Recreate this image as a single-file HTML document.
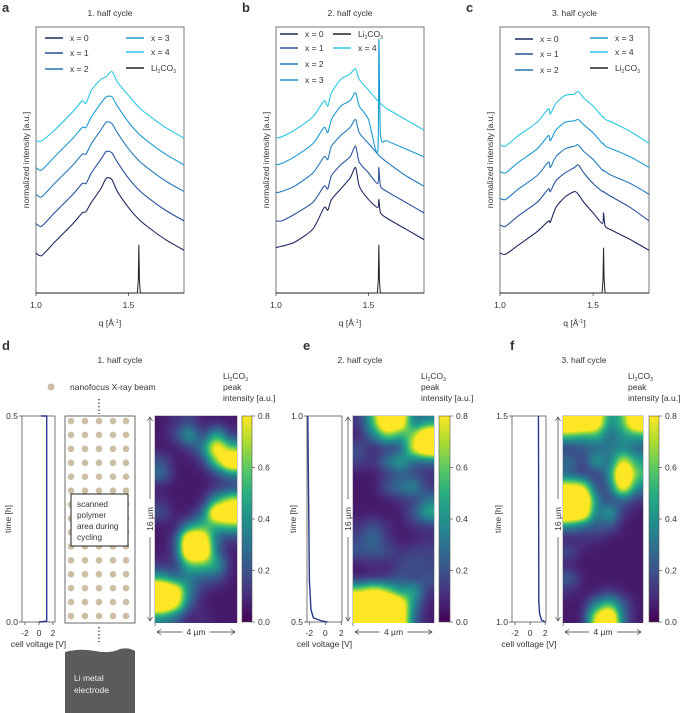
<!DOCTYPE html>
<html><head><meta charset="utf-8">
<style>
html,body{margin:0;padding:0;background:#fff;}
#wrap{position:relative;width:685px;height:713px;overflow:hidden;font-family:"Liberation Sans",sans-serif;}
svg text{font-family:"Liberation Sans",sans-serif;fill:#333;}
canvas{position:absolute;}
</style></head><body>
<div id="wrap">
<svg id="svg" width="685" height="713" viewBox="0 0 685 713" style="position:absolute;left:0;top:0"></svg>
<canvas id="hmD" width="82" height="207" style="left:155px;top:416px"></canvas>
<canvas id="hmE" width="81" height="207" style="left:353px;top:416px"></canvas>
<canvas id="hmF" width="80" height="207" style="left:563px;top:416px"></canvas>
</div>
<script>
// ---------- spectra data ----------
const qA=[1.0,1.03,1.1,1.2,1.25,1.27,1.3,1.35,1.38,1.41,1.44,1.5,1.55,1.6,1.7,1.8];
const aX0=[1.5,1.4,1.9,2.6,3.0,3.05,3.4,3.9,4.3,4.25,3.8,3.2,2.8,2.5,2.0,1.6];
const aX1=[2.6,2.5,3.0,3.7,4.1,4.1,4.5,5.0,5.3,5.25,4.9,4.3,3.9,3.6,3.1,2.7];
const aX2=[3.7,3.6,4.1,4.8,5.2,5.2,5.6,6.1,6.4,6.35,6.0,5.4,5.0,4.7,4.2,3.8];
const aX3=[4.7,4.6,5.1,5.8,6.2,6.2,6.6,7.1,7.35,7.35,7.0,6.4,6.0,5.7,5.2,4.8];
const aX4=[5.7,5.7,6.1,6.8,7.2,7.1,7.6,8.0,8.1,8.3,7.9,7.4,7.0,6.7,6.2,5.8];
const qB=[1.0,1.03,1.1,1.2,1.26,1.28,1.3,1.35,1.4,1.43,1.45,1.5,1.55,1.556,1.565,1.6,1.7,1.8];
const bX0=[1.7,1.75,1.9,2.4,3.2,3.1,3.5,3.9,4.3,4.7,4.0,3.5,3.2,3.5,3.0,2.8,2.4,2.0];
const bX1=[2.7,2.7,2.95,3.4,4.0,3.9,4.4,4.8,5.1,5.5,4.9,4.5,4.1,4.7,4.0,3.8,3.4,3.0];
const bX2=[3.75,3.8,4.0,4.5,5.1,5.0,5.5,5.9,6.2,6.5,6.0,5.6,5.2,5.15,5.1,4.9,4.4,4.0];
const bX3=[4.8,4.85,5.1,5.6,6.2,6.0,6.5,7.0,7.2,7.5,7.0,6.5,5.3,9.5,5.9,5.7,5.4,5.1];
const bX4=[5.8,5.85,6.1,6.6,7.2,7.0,7.5,8.0,8.2,8.4,8.0,7.6,7.2,7.15,7.1,6.9,6.5,6.1];
const qC=[1.0,1.03,1.1,1.2,1.26,1.27,1.3,1.35,1.4,1.42,1.45,1.5,1.55,1.556,1.565,1.6,1.7,1.8];
const cX0=[1.5,1.45,1.8,2.3,2.7,2.65,3.2,3.6,3.8,3.7,3.4,3.0,2.6,3.0,2.5,2.35,2.0,1.6];
const cX1=[2.55,2.5,2.9,3.4,3.9,3.8,4.2,4.5,4.7,4.8,4.5,4.1,3.8,3.8,3.75,3.6,3.2,2.7];
const cX2=[3.55,3.5,3.9,4.4,4.9,4.7,5.1,5.4,5.5,5.55,5.3,5.0,4.6,4.6,4.55,4.4,4.1,3.7];
const cX3=[4.55,4.5,4.9,5.4,5.9,5.7,6.1,6.4,6.45,6.5,6.3,6.0,5.6,5.6,5.5,5.4,5.1,4.7];
const cX4=[5.55,5.5,5.9,6.4,6.9,6.7,7.1,7.4,7.45,7.55,7.3,7.0,6.6,6.6,6.5,6.4,6.05,5.6];
const qLi=[1.0,1.548,1.553,1.556,1.559,1.564,1.8];
const liA=[0,0,0.5,1.8,0.5,0,0];
const liB=[0,0,0.5,1.8,0.5,0,0];
const liC=[0,0,0.5,1.7,0.5,0,0];
const xTicks=[1.0,1.5];
const seriesLabels=["x = 0","x = 1","x = 2","x = 3","x = 4"];
// ---------- voltage data ----------
const tD=[0.0,0.0,0.002,0.5,0.5];
const vD=[0.0,0.0,1.1,1.1,0.3];
const tE=[1.0,0.8,0.6,0.53,0.51,0.503,0.5];
const vE=[-2.2,-2.1,-2.0,-1.8,-1.5,-0.5,0.3];
const tF=[1.0,1.005,1.02,1.05,1.5];
const vF=[2.0,1.5,1.25,1.15,1.1];
const vTicks=[-2,0,2];
// ---------- heatmap grids (Li2CO3 peak intensity), rows top->bottom ----------
const hmDgrid=[
[0.05,0.1,0.15,0.05,0.05,0.05],[0.05,0.15,0.5,0.1,0.5,0.1],[0.05,0.05,0.1,0.3,1.0,0.5],[0.2,0.05,0.05,0.1,0.6,1.2],
[0.3,0.05,0.05,0.05,0.1,0.3],[0.05,0.05,0.05,0.05,0.1,0.1],[0.1,0.05,0.05,0.05,0.4,0.7],[0.2,0.05,0.05,0.2,1.2,1.2],
[0.05,0.05,0.3,0.5,0.4,0.5],[0.05,0.1,1.2,1.0,0.2,0.1],[0.05,0.1,1.2,1.2,0.2,0.05],[0.1,0.1,0.5,0.5,0.5,0.05],
[0.4,0.2,0.3,0.2,0.2,0.05],[1.3,1.0,0.3,0.1,0.05,0.05],[1.3,0.9,0.2,0.05,0.05,0.05],[0.3,0.2,0.05,0.1,0.05,0.05]];
const hmEgrid=[
[0.1,0.5,1.2,1.0,0.2,0.3],[0.05,0.3,0.6,0.4,0.6,1.2],[0.2,0.05,0.1,0.1,0.8,1.2],[0.15,0.1,0.3,0.5,0.2,0.2],
[0.05,0.05,0.1,0.2,0.15,0.1],[0.05,0.05,0.2,0.3,0.4,0.1],[0.05,0.05,0.05,0.1,0.1,0.3],[0.05,0.05,0.05,0.05,0.2,0.5],
[0.1,0.2,0.1,0.05,0.1,0.1],[0.15,0.3,0.1,0.05,0.05,0.1],[0.2,0.2,0.2,0.1,0.15,0.15],[0.05,0.1,0.05,0.15,0.2,0.15],
[0.05,0.05,0.1,0.2,0.1,0.2],[0.6,0.8,0.6,0.3,0.5,0.1],[1.3,1.3,1.3,1.0,0.3,0.05],[1.3,1.3,1.3,1.0,0.2,0.05]];
const hmFgrid=[
[1.3,1.3,1.0,0.3,0.5,1.2],[0.5,0.4,0.5,0.2,0.4,0.4],[0.1,0.2,0.2,0.3,0.3,0.2],[0.3,0.1,0.5,0.2,0.8,0.4],
[0.2,0.1,0.1,0.3,1.3,0.5],[0.8,0.8,0.1,0.2,1.0,0.3],[1.3,1.2,0.3,0.1,0.2,0.1],[1.3,1.1,0.2,0.5,0.1,0.05],
[0.3,0.2,0.2,0.2,0.05,0.05],[0.05,0.1,0.1,0.05,0.05,0.05],[0.2,0.05,0.05,0.05,0.05,0.05],[0.05,0.05,0.05,0.05,0.05,0.05],
[0.25,0.05,0.05,0.05,0.05,0.05],[0.1,0.05,0.05,0.1,0.05,0.05],[0.05,0.05,0.3,0.5,0.2,0.05],[0.05,0.05,0.8,1.2,0.2,0.05]];
const cbTicks=[0.0,0.2,0.4,0.6,0.8];

const NS="http://www.w3.org/2000/svg";
const svg=document.getElementById('svg');
function el(tag,attrs,parent){const e=document.createElementNS(NS,tag);for(const k in attrs)e.setAttribute(k,attrs[k]);(parent||svg).appendChild(e);return e;}
function txt(x,y,s,size,anchor,parent,extra){const t=el('text',Object.assign({x:x,y:y,'font-size':size,'text-anchor':anchor||'start'},extra||{}),parent);t.textContent=s;return t;}
const colors=['#1f2a5e','#2a519c','#2479ba','#1c9bd2','#2cc6e2'];

// smooth path (Catmull-Rom -> bezier, low tension)
function smoothPath(pts){let d='M'+pts[0][0].toFixed(2)+','+pts[0][1].toFixed(2);
  for(let i=0;i<pts.length-1;i++){const p0=pts[Math.max(0,i-1)],p1=pts[i],p2=pts[i+1],p3=pts[Math.min(pts.length-1,i+2)];
    const k=0.12;const c1=[p1[0]+(p2[0]-p0[0])*k,p1[1]+(p2[1]-p0[1])*k],c2=[p2[0]-(p3[0]-p1[0])*k,p2[1]-(p3[1]-p1[1])*k];
    d+=`C${c1[0].toFixed(2)},${c1[1].toFixed(2)} ${c2[0].toFixed(2)},${c2[1].toFixed(2)} ${p2[0].toFixed(2)},${p2[1].toFixed(2)}`;}
  return d;}

function spectrumPanel(letter,title,L,R,q,series,li,legendPos){
  const g=el('g',{});
  
  
  const T=27,B=293;
  const sx=v=>L+(v-1.0)/(0.8)*(R-L);
  const sy=v=>B-v*26.7;
  const lt=txt(L-34,12,letter,13,'start',g,{'font-weight':'bold',fill:'#111'});
  
  const tt=txt((L+R)/2,16,title,8.5,'middle',g);
  
  const box=el('rect',{x:L,y:T,width:R-L,height:B-T,fill:'none',stroke:'#555','stroke-width':0.8},g);
  
  xTicks.forEach(v=>{el('line',{x1:sx(v),x2:sx(v),y1:B,y2:B+3,stroke:'#555','stroke-width':0.8},g);
    const tl=txt(sx(v),308,v.toFixed(1),8.5,'middle',g);});
  const xl=txt((L+R)/2,326,'q [Å',8.5,'middle',g);
  const ts=el('tspan',{'font-size':5.5,dy:-3},xl);ts.textContent='-1';const ts2=el('tspan',{dy:3},xl);ts2.textContent=']';
  
  const yl=txt(0,0,'normalized intensity [a.u.]',8.5,'middle',g,{transform:`translate(${L-7},${(T+B)/2}) rotate(-90)`});
  
  let d='';qLi.forEach((v,i)=>{d+=(i?'L':'M')+sx(v).toFixed(2)+','+sy(li[i]).toFixed(2);});
  const lp=el('path',{d:d,fill:'none',stroke:'#222','stroke-width':1},g);
  
  series.forEach((s,k)=>{const pts=q.map((v,i)=>[sx(v),sy(s[i])]);
    const p=el('path',{d:smoothPath(pts),fill:'none',stroke:colors[k],'stroke-width':1.1,'stroke-linejoin':'round'},g);
    });
  legendPos.forEach(([lx,ly,label,ci])=>{
    const lg=el('g',{},g);
    
    el('line',{x1:lx,x2:lx+18,y1:ly,y2:ly,stroke:ci<0?'#222':colors[ci],'stroke-width':1.6},lg);
    if(label==='Li2CO3'){const t=txt(lx+25,ly+3,'Li',8.5,'start',lg);const a=el('tspan',{'font-size':5,dy:2},t);a.textContent='2';const b=el('tspan',{dy:-2},t);b.textContent='CO';const c=el('tspan',{'font-size':5,dy:2},t);c.textContent='3';}
    else txt(lx+25,ly+3,label,8.5,'start',lg);
  });
}
spectrumPanel('a','1. half cycle',36,184,qA,[aX0,aX1,aX2,aX3,aX4],liA,
 [[45,38,seriesLabels[0],0],[45,53,seriesLabels[1],1],[45,69,seriesLabels[2],2],[126,38,seriesLabels[3],3],[126,52,seriesLabels[4],4],[126,68,'Li2CO3',-1]]);
spectrumPanel('b','2. half cycle',276,424,qB,[bX0,bX1,bX2,bX3,bX4],liB,
 [[280,34,seriesLabels[0],0],[280,48,seriesLabels[1],1],[280,64,seriesLabels[2],2],[280,80,seriesLabels[3],3],[333,48,seriesLabels[4],4],[333,34,'Li2CO3',-1]]);
spectrumPanel('c','3. half cycle',500,649,qC,[cX0,cX1,cX2,cX3,cX4],liC,
 [[515,39,seriesLabels[0],0],[515,54,seriesLabels[1],1],[515,70,seriesLabels[2],2],[590,38,seriesLabels[3],3],[590,52,seriesLabels[4],4],[590,68,'Li2CO3',-1]]);

const vir=[[68,1,84],[71,45,123],[59,82,139],[44,114,142],[33,145,140],[40,174,128],[94,201,98],[173,220,48],[253,231,37]];
function viridis(t){t=Math.max(0,Math.min(1,t));const f=t*8;const i=Math.min(7,Math.floor(f));const r=f-i;const a=vir[i],b=vir[i+1];return[a[0]+(b[0]-a[0])*r,a[1]+(b[1]-a[1])*r,a[2]+(b[2]-a[2])*r];}
const defs=el('defs',{});
const lg=el('linearGradient',{id:'vgrad',x1:0,y1:1,x2:0,y2:0},defs);
vir.forEach((c,i)=>el('stop',{offset:(i/8),'stop-color':`rgb(${c.join(',')})`},lg));

function drawHeatmap(id,grid){
  const cv=document.getElementById(id),ctx=cv.getContext('2d');const W=cv.width,H=cv.height;
  const img=ctx.createImageData(W,H);const rows=grid.length,cols=grid[0].length;
  const sig=0.55,s2=2*sig*sig;
  for(let py=0;py<H;py++){const gy=(py+0.5)/H*rows-0.5;
    for(let px=0;px<W;px++){const gx=(px+0.5)/W*cols-0.5;
      let sw=0,sv=0;
      for(let r=Math.max(0,Math.floor(gy)-2);r<=Math.min(rows-1,Math.floor(gy)+3);r++)
        for(let c=Math.max(0,Math.floor(gx)-2);c<=Math.min(cols-1,Math.floor(gx)+3);c++){
          const w=Math.exp(-((r-gy)*(r-gy)+(c-gx)*(c-gx))/s2);sw+=w;sv+=w*grid[r][c];}
      const v=sv/sw*1.1;
      const col=viridis(v/0.8);const k=(py*W+px)*4;img.data[k]=col[0];img.data[k+1]=col[1];img.data[k+2]=col[2];img.data[k+3]=255;}}
  ctx.putImageData(img,0,0);
}
drawHeatmap('hmD',hmDgrid);drawHeatmap('hmE',hmEgrid);drawHeatmap('hmF',hmFgrid);

function bottomPanel(letter,title,cfg){
  const g=el('g',{});
  
  
  const T=416,B=622;
  const lt=txt(cfg.letterX,350,letter,13,'start',g,{'font-weight':'bold',fill:'#111'});
  
  const tt=txt(cfg.titleX,363,title,8.5,'middle',g);
  
  const [VL,VR]=cfg.vbox,[vmin,vmax]=cfg.vdom,[tmin,tmax]=cfg.tdom;
  const sx=v=>VL+(v-vmin)/(vmax-vmin)*(VR-VL);const sy=t=>B-(t-tmin)/(tmax-tmin)*(B-T);
  const fr=el('rect',{x:VL,y:T,width:VR-VL,height:B-T,fill:'#fff',stroke:'#555','stroke-width':0.8},g);
  
  let d='';cfg.t.forEach((tv,i)=>{d+=(i?'L':'M')+sx(cfg.v[i]).toFixed(2)+','+sy(tv).toFixed(2);});
  const vp=el('path',{d:d,fill:'none',stroke:'#26368a','stroke-width':1.4},g);
  
  vTicks.forEach(v=>{el('line',{x1:sx(v),x2:sx(v),y1:B,y2:B+3,stroke:'#555','stroke-width':0.8},g);
    const l=txt(sx(v),636,String(v),8.5,'middle',g);});
  [tmin,tmax].forEach(tv=>{el('line',{x1:VL-3,x2:VL,y1:sy(tv),y2:sy(tv),stroke:'#555','stroke-width':0.8},g);
    const l=txt(VL-4,sy(tv)+3,tv.toFixed(1),8.5,'end',g);});
  const xl=txt((VL+VR)/2,647,'cell voltage [V]',8.5,'middle',g);
  const yl=txt(0,0,'time [h]',8.5,'middle',g,{transform:`translate(${VL-11},${(T+B)/2}) rotate(-90)`});
  const [HL,HR]=cfg.hbox;
  const hf=el('rect',{x:HL,y:T,width:HR-HL,height:B-T,fill:'none',stroke:'#555','stroke-width':0.6},g);
  
  const ax=HL-5;
  el('line',{x1:ax,x2:ax,y1:T+1,y2:(T+B)/2-20,stroke:'#333','stroke-width':0.7},g);
  el('line',{x1:ax,x2:ax,y1:(T+B)/2+18,y2:B-1,stroke:'#333','stroke-width':0.7},g);
  el('path',{d:`M${ax-2.5},${T+5}L${ax},${T+1}L${ax+2.5},${T+5}M${ax-2.5},${B-5}L${ax},${B-1}L${ax+2.5},${B-5}`,fill:'none',stroke:'#333','stroke-width':0.7},g);
  const hl=txt(0,0,'16 µm',8.5,'middle',g,{transform:`translate(${ax+3},${(T+B)/2}) rotate(-90)`});
  el('line',{x1:HL,x2:HL,y1:B,y2:B+4,stroke:'#555','stroke-width':0.7},g);
  const ay=632,mx=(HL+HR)/2;
  el('line',{x1:HL+2,x2:mx-14,y1:ay,y2:ay,stroke:'#333','stroke-width':0.7},g);
  el('line',{x1:mx+14,x2:HR-2,y1:ay,y2:ay,stroke:'#333','stroke-width':0.7},g);
  el('path',{d:`M${HL+6},${ay-2.5}L${HL+2},${ay}L${HL+6},${ay+2.5}M${HR-6},${ay-2.5}L${HR-2},${ay}L${HR-6},${ay+2.5}`,fill:'none',stroke:'#333','stroke-width':0.7},g);
  const wl=txt(mx,635,'4 µm',8.5,'middle',g);
  const [CL,CR]=cfg.cbox;
  const cb=el('rect',{x:CL,y:T,width:CR-CL,height:B-T,fill:'url(#vgrad)',stroke:'#555','stroke-width':0.6},g);
  
  cbTicks.forEach(v=>{const y=B-v/0.8*(B-T);el('line',{x1:CR,x2:CR+3,y1:y,y2:y,stroke:'#555','stroke-width':0.7},g);
    const l=txt(CR+6,y+3,v.toFixed(1),8.5,'start',g);});
  const ct=txt(cfg.cbLabelX,379,'Li',8.5,'start',g);const a=el('tspan',{'font-size':5,dy:2},ct);a.textContent='2';const b=el('tspan',{dy:-2},ct);b.textContent='CO';const c=el('tspan',{'font-size':5,dy:2},ct);c.textContent='3';
  
  txt(cfg.cbLabelX,390,'peak',8.5,'start',g);
  txt(cfg.cbLabelX,401,'intensity [a.u.]',8.5,'start',g);
}
bottomPanel('d','1. half cycle',{letterX:2,titleX:120,vbox:[22,55],vdom:[-2.43,2.29],tdom:[0.0,0.5],t:tD,v:vD,hbox:[155,237],cbox:[242,252],cbLabelX:223});
bottomPanel('e','2. half cycle',{letterX:303,titleX:360,vbox:[307,342],vdom:[-2.3,2.1],tdom:[0.5,1.0],t:tE,v:vE,hbox:[353,434],cbox:[439,450],cbLabelX:421});
bottomPanel('f','3. half cycle',{letterX:510,titleX:584,vbox:[512,546],vdom:[-2.4,2.1],tdom:[1.0,1.5],t:tF,v:vF,hbox:[563,643],cbox:[649,659],cbLabelX:628});

const sg=el('g',{});


const bd=el('circle',{cx:51,cy:387,r:3.5,fill:'#cdbfa5'},sg);

const bl=txt(70,390,'nanofocus X-ray beam',8.5,'start',sg);
el('line',{x1:99,x2:99,y1:399,y2:414,stroke:'#222','stroke-width':1.3,'stroke-dasharray':'1.3,2.2'},sg);
el('line',{x1:99,x2:99,y1:627,y2:642,stroke:'#222','stroke-width':1.3,'stroke-dasharray':'1.3,2.2'},sg);
const sf=el('rect',{x:65,y:416,width:70,height:207,fill:'#fff',stroke:'#444','stroke-width':0.8},sg);

const dcols=[71,85,99,113,126];
for(let r=0;r<15;r++)for(const cx of dcols){el('circle',{cx:cx,cy:421+r*13.93,r:3.3,fill:'#cdbfa5'},sg);}
const ib=el('rect',{x:71,y:494,width:57,height:52,fill:'#fff',stroke:'#222','stroke-width':1},sg);

['scanned','polymer','area during','cycling'].forEach((s,i)=>txt(77,507+i*11,s,8.2,'start',sg,{fill:'#222'}));
const elc=el('path',{d:'M65,652 Q80,648 95,651 Q110,654 120,649 Q128,647 135,651 L135,713 L65,713 Z',fill:'#5b5b5b'},sg);

txt(74,681,'Li metal',8.5,'start',sg,{style:'fill:#eee'});
txt(74,693,'electrode',8.5,'start',sg,{style:'fill:#eee'});
</script>
</body></html>
